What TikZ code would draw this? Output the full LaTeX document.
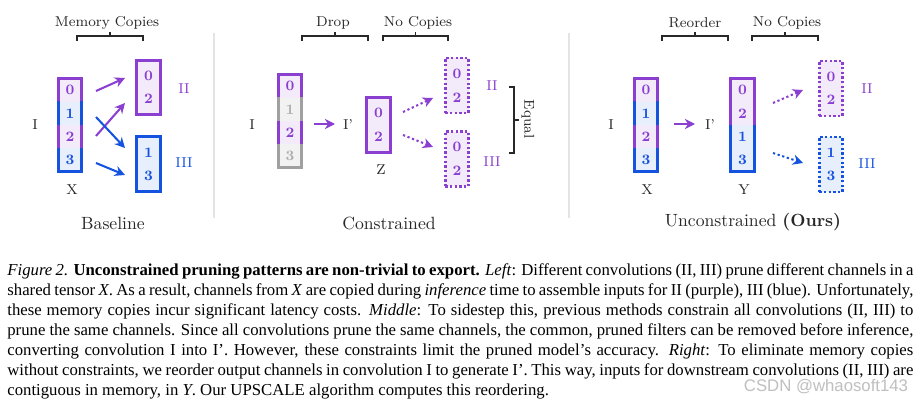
\documentclass[tikz,border=0pt]{standalone}
\usepackage{fontspec}
\newfontfamily\capfont{Liberation Serif}
\newfontfamily\wmfont{Liberation Sans}
\usetikzlibrary{arrows.meta}
\definecolor{pur}{RGB}{138,63,209}
\definecolor{blu}{RGB}{22,82,224}
\definecolor{purL}{RGB}{243,235,250}
\definecolor{bluL}{RGB}{232,239,252}
\definecolor{gryB}{RGB}{160,160,160}
\definecolor{gryL}{RGB}{242,242,242}
\definecolor{gryT}{RGB}{175,175,175}
\definecolor{sepc}{RGB}{228,228,228}
\definecolor{ink}{RGB}{40,40,40}
\newcommand\topedge[2]{\draw[edge,#2] (#1.south west) -- (#1.north west) -- (#1.north east) -- (#1.south east);}
\newcommand\midedge[2]{\draw[edge,#2] (#1.north west) -- (#1.south west) (#1.north east) -- (#1.south east);}
\newcommand\botedge[2]{\draw[edge,#2] (#1.north west) -- (#1.south west) -- (#1.south east) -- (#1.north east);}
\newcommand\hbrk[2]{\draw[brk] (#1,41) -- (#1,36) -- (#2,36) -- (#2,41); \draw[brk] ({(#1+#2)/2},36) -- ({(#1+#2)/2},32.5);}
\begin{document}
\begin{tikzpicture}[x=0.5375pt,y=-0.5375pt,
  cell/.style={rectangle, inner sep=0, minimum width=12.4pt, minimum height=12.5pt, font=\fontsize{7.7}{9}\selectfont\bfseries},
  pcell/.style={cell, fill=purL, text=pur},
  bcell/.style={cell, fill=bluL, text=blu},
  gcell/.style={cell, fill=gryL, text=gryT},
  box/.style={rectangle, inner sep=0, minimum width=12.4pt, minimum height=29.5pt, line width=1.6pt},
  pbox/.style={box, draw=pur, fill=purL},
  bbox/.style={box, draw=blu, fill=bluL},
  pdbox/.style={box, draw=pur, fill=purL, line width=1.5pt, dash pattern=on 1.25pt off 1.25pt},
  bdbox/.style={box, draw=blu, fill=bluL, line width=1.5pt, dash pattern=on 1.25pt off 1.25pt},
  digit/.style={inner sep=0, font=\fontsize{7.7}{9}\selectfont\bfseries},
  lbl/.style={inner sep=0, font=\fontsize{7.7}{9}\selectfont, text=ink},
  ttl/.style={inner sep=0, font=\fontsize{9.5}{11}\selectfont, text=ink},
  edge/.style={line width=1.6pt},
  arr/.style={line width=1.1pt, -{Stealth[length=5.5pt,width=5.5pt]}},
  darr/.style={arr, dash pattern=on 1.2pt off 1.4pt},
  brk/.style={line width=0.6pt, draw=ink},
  sepl/.style={line width=0.8pt, draw=sepc}]
\fill[white] (0,0) rectangle (920,404);
\useasboundingbox (0,0) rectangle (920,404);

% separators
\draw[sepl] (214,33) -- (214,218);
\draw[sepl] (569,33) -- (569,218);

% ---------------- Baseline ----------------
\node[lbl] (tmc) at (107,23) {Memory Copies};
\hbrk{77}{143}
\node[pcell] (a0) at (70,90.1) {0};
\node[bcell] (a1) at (70,113.4) {1};
\node[pcell] (a2) at (70,136.6) {2};
\node[bcell] (a3) at (70,159.9) {3};
\topedge{a0}{pur}\midedge{a1}{blu}\midedge{a2}{pur}\botedge{a3}{blu}
\node[lbl] (aI) at (35,125) {I};
\node[lbl] (aX) at (72,190) {X};
\node[pbox] (aII) at (148.5,87.5) {};
\node[digit, text=pur] (aII0) at (148.5,76) {0};
\node[digit, text=pur] (aII2) at (148.5,99) {2};
\node[bbox] (aIII) at (148.5,164) {};
\node[digit, text=blu] (aIII1) at (148.5,152.5) {1};
\node[digit, text=blu] (aIII3) at (148.5,175.5) {3};
\node[lbl, text=pur] (aIIl) at (184,89) {II};
\node[lbl, text=blu] (aIIIl) at (184,163) {III};
\coordinate (p1s) at (96,91); \coordinate (p1e) at (125,78);
\coordinate (p2s) at (96,136); \coordinate (p2e) at (125,103);
\coordinate (b1s) at (96,117); \coordinate (b1e) at (125,148);
\coordinate (b2s) at (96,163); \coordinate (b2e) at (125,175);
\draw[arr, pur] (p1s) -- (p1e);
\draw[arr, pur] (p2s) -- (p2e);
\draw[arr, blu] (b1s) -- (b1e);
\draw[arr, blu] (b2s) -- (b2e);
\node[ttl] (tbase) at (113,223) {Baseline};

% ---------------- Constrained ----------------
\node[lbl] (tdrop) at (333,23) {Drop};
\hbrk{302}{368}
\node[lbl] (tnc1) at (418,23) {No Copies};
\hbrk{383}{448}
\node[pcell] (c0) at (290,86.1) {0};
\node[gcell] (c1) at (290,109.4) {1};
\node[pcell] (c2) at (290,132.6) {2};
\node[gcell] (c3) at (290,155.9) {3};
\topedge{c0}{pur}\midedge{c1}{gryB}\midedge{c2}{pur}\botedge{c3}{gryB}
\node[lbl] (cI) at (252,125) {I};
\node[lbl] (cIp) at (348,125) {I'};
\coordinate (cas) at (314,124); \coordinate (cae) at (335,124);
\draw[arr, pur] (cas) -- (cae);
\node[pbox] (cZ) at (378.5,125) {};
\node[digit, text=pur] (cZ0) at (378.5,113) {0};
\node[digit, text=pur] (cZ2) at (378.5,137) {2};
\node[lbl] (cZl) at (381,170) {Z};
\coordinate (cd1s) at (403,112); \coordinate (cd1e) at (433,98);
\coordinate (cd2s) at (403,135); \coordinate (cd2e) at (433,147);
\draw[darr, pur] (cd1s) -- (cd1e);
\draw[darr, pur] (cd2s) -- (cd2e);
\node[pdbox] (cII) at (457,85.5) {};
\node[digit, text=pur] (cII0) at (457,73.5) {0};
\node[digit, text=pur] (cII2) at (457,97.5) {2};
\node[pdbox] (cIII) at (457,159) {};
\node[digit, text=pur] (cIII0) at (457,147) {0};
\node[digit, text=pur] (cIII2) at (457,171) {2};
\node[lbl, text=pur] (cIIl) at (492,86) {II};
\node[lbl, text=pur] (cIIIl) at (492,162) {III};
\draw[brk] (509,87) -- (514,87) -- (514,153) -- (509,153);
\draw[brk] (514,120) -- (519,120);
\node[lbl, rotate=-90] (ceq) at (528,119) {Equal};
\node[ttl] (tcons) at (389,223) {Constrained};

% ---------------- Unconstrained ----------------
\node[lbl] (treo) at (695,23) {Reorder};
\hbrk{662}{728}
\node[lbl] (tnc2) at (787,23) {No Copies};
\hbrk{752}{818}
\node[pcell] (x0) at (646,90.1) {0};
\node[bcell] (x1) at (646,113.4) {1};
\node[pcell] (x2) at (646,136.6) {2};
\node[bcell] (x3) at (646,159.9) {3};
\topedge{x0}{pur}\midedge{x1}{blu}\midedge{x2}{pur}\botedge{x3}{blu}
\node[lbl] (uI) at (611,125) {I};
\node[lbl] (uX) at (647,190) {X};
\coordinate (uas) at (674,124); \coordinate (uae) at (695,124);
\draw[arr, pur] (uas) -- (uae);
\node[lbl] (uIp) at (710,125) {I'};
\node[pcell] (y0) at (742.5,90.1) {0};
\node[pcell] (y1) at (742.5,113.4) {2};
\node[bcell] (y2) at (742.5,136.6) {1};
\node[bcell] (y3) at (742.5,159.9) {3};
\topedge{y0}{pur}\midedge{y1}{pur}\midedge{y2}{blu}\botedge{y3}{blu}
\node[lbl] (uY) at (744,190) {Y};
\coordinate (ud1s) at (773,103); \coordinate (ud1e) at (803,90);
\coordinate (ud2s) at (773,153); \coordinate (ud2e) at (803,163);
\draw[darr, pur] (ud1s) -- (ud1e);
\draw[darr, blu] (ud2s) -- (ud2e);
\node[pdbox] (uII) at (831,88.5) {};
\node[digit, text=pur] (uII0) at (831,77) {0};
\node[digit, text=pur] (uII2) at (831,100) {2};
\node[bdbox] (uIII) at (831,164.5) {};
\node[digit, text=blu] (uIII1) at (831,153) {1};
\node[digit, text=blu] (uIII3) at (831,176) {3};
\node[lbl, text=pur] (uIIl) at (867,89) {II};
\node[lbl, text=blu] (uIIIl) at (867,164) {III};
\node[ttl] (tunc) at (753,222) {Unconstrained \textbf{(Ours)}};

% ---------------- Caption ----------------
\node[anchor=north west, inner sep=0, font=\capfont\fontsize{9}{10.75}\selectfont] (cap) at (7,263) {\vbox{\hsize=487pt \baselineskip=10.75pt
\hbox to\hsize{\textit{Figure 2.} \textbf{Unconstrained pruning patterns are non-trivial to export.} \textit{Left}: Different convolutions (II, III) prune different channels in a}
\hbox to\hsize{shared tensor \textit{X}. As a result, channels from \textit{X} are copied during \textit{inference} time to assemble inputs for II (purple), III (blue). Unfortunately,}
\hbox to\hsize{these memory copies incur significant latency costs. \textit{Middle}: To sidestep this, previous methods constrain all convolutions (II, III) to}
\hbox to\hsize{prune the same channels. Since all convolutions prune the same channels, the common, pruned filters can be removed before inference,}
\hbox to\hsize{converting convolution I into I’. However, these constraints limit the pruned model’s accuracy. \textit{Right}: To eliminate memory copies}
\hbox to\hsize{without constraints, we reorder output channels in convolution I to generate I’. This way, inputs for downstream convolutions (II, III) are}
\hbox{contiguous in memory, in \textit{Y}. Our UPSCALE algorithm computes this reordering.}}};
\node[font=\wmfont\fontsize{9}{10}\selectfont, text=black!25, inner sep=0] (wm) at (826,387) {CSDN @whaosoft143};
\end{tikzpicture}
\end{document}
